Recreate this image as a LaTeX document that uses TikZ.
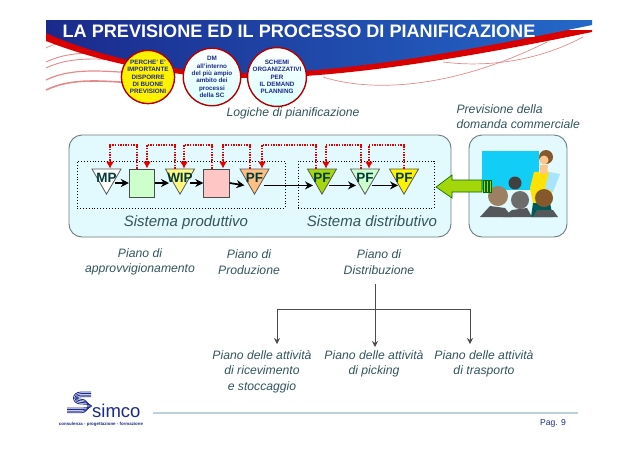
\documentclass[tikz,border=0pt]{standalone}
\usepackage{fontspec}
\setmainfont{Liberation Sans}
\usetikzlibrary{arrows.meta,shapes.geometric,positioning}
\definecolor{slatetext}{HTML}{33555C}
\definecolor{panelfill}{HTML}{E2F9FD}
\definecolor{panelline}{HTML}{6F7A7C}
\definecolor{navytext}{HTML}{1B2A8A}
\definecolor{swooshred}{HTML}{E58A8A}
\definecolor{headerleft}{HTML}{1A2A8C}
\definecolor{headerright}{HTML}{2468C8}
\definecolor{limefill}{HTML}{A4D60C}
\definecolor{screenfill}{HTML}{12CDF5}
\definecolor{crowdgray}{HTML}{55585A}
\tikzset{
    panel/.style={rectangle, rounded corners=13pt, draw=panelline, fill=panelfill, line width=0.9pt},
    zone/.style={rectangle, draw=black, line width=0.9pt, dotted},
    stock/.style={regular polygon, regular polygon sides=3, shape border rotate=180, minimum size=33.5pt, inner sep=0pt,
        draw=gray!70!black, line width=0.8pt,
        label={[text=black!55!teal, font=\fontsize{13.5}{15}\selectfont\bfseries]center:#1}},
    phase/.style={rectangle, draw=gray!60!black, line width=0.9pt, minimum width=25.5pt, minimum height=28pt},
    flow/.style={-{Stealth[length=8pt,width=8pt]}, black, line width=1.7pt},
    kanban/.style={-{Latex[length=7pt,width=8pt]}, red!90!black, line width=1.4pt, dash pattern=on 1.4pt off 1.2pt},
    plan/.style={-{Stealth[length=6pt,width=6pt]}, black!70, line width=0.9pt},
    bubble/.style={circle, draw=red!70!black, line width=1.4pt, minimum size=52pt, inner sep=0pt, align=center,
        text=navytext, font=\fontsize{6.3}{7.3}\selectfont\bfseries},
    note/.style={text=slatetext, align=center, font=\fontsize{12.2}{15.3}\selectfont\itshape},
    zonename/.style={text=slatetext, anchor=base, font=\fontsize{15}{18}\selectfont\itshape},
    swoosh/.style={draw=swooshred, line width=0.7pt}
}
\begin{document}
\begin{tikzpicture}[x=1pt,y=-1pt]
    \useasboundingbox (0,0) rectangle (638,451);
    % header
    \foreach \d/\w in {48/0.7,62/0.9,68/0.9,80/1.2,90/1.6}{
        \draw[swoosh, line width=\w pt] (46,\d) .. controls (75,\d-14) and (110,\d-8) .. (150,\d-6);
    }
    \draw[swoosh] (323,77) .. controls (370,92) and (450,90) .. (547,42);
    \draw[swoosh] (443,62) .. controls (490,68) and (540,60) .. (583,37);
    \fill[red!85!black] (46,30) -- (592,30) -- (592,32) .. controls (480,55) and (350,78) .. (250,78) .. controls (170,78) and (100,62) .. (46,41) -- cycle;
    \shade[left color=headerleft, right color=headerright] (46,20) -- (592,20) -- (592,25) .. controls (480,48) and (350,73) .. (250,73) .. controls (170,73) and (100,57) .. (46,33) -- cycle;
    \node[text=white, font=\fontsize{18.1}{20}\selectfont\bfseries] (title) at (299,31) {LA PREVISIONE ED IL PROCESSO DI PIANIFICAZIONE};

    \node[bubble, fill=yellow] (whyb) at (148,77) {PERCHE' E'\\IMPORTANTE\\DISPORRE\\DI BUONE\\PREVISIONI};
    \node[bubble, top color=white, bottom color=cyan!15] (dmb) at (212,77) {DM\\all'interno\\del più ampio\\ambito dei\\processi\\della SC};
    \node[bubble, top color=white, bottom color=cyan!15] (orgb) at (277,77) {SCHEMI\\ORGANIZZATIVI\\PER\\IL DEMAND\\PLANNING};

    \node[note] (logic) at (293,113) {Logiche di pianificazione};
    \node[note, align=left, anchor=west] (demand) at (453,116.5) {Previsione della\\domanda commerciale};

    % panels
    \node[panel, minimum width=382pt, minimum height=102pt] (sys) at (260,186) {};
    \node[panel, minimum width=98pt, minimum height=102pt] (room) at (518,186) {};
    \node[zone, minimum width=208pt, minimum height=47pt] (prod) at (181,184.5) {};
    \node[zone, minimum width=136pt, minimum height=47pt] (dist) at (366,184.5) {};
    \node[zonename] (prodname) at (186,226) {Sistema produttivo};
    \node[zonename] (distname) at (372,226) {Sistema distributivo};

    % stocks and phases
    \node[stock=MP, fill=white] (mp) at (106.5,177.4) {};
    \node[phase, fill=green!20] (fasea) at (142,183) {};
    \node[stock=WIP, fill=yellow!50] (wip) at (180,177.4) {};
    \node[phase, fill=pink!90!white] (faseb) at (216.5,183) {};
    \node[stock=PF, fill=orange!50] (pf) at (254.5,177.4) {};
    \node[stock=PF, fill=limefill] (pfa) at (322,177.4) {};
    \node[stock=PF, fill=green!20] (pfb) at (365,177.4) {};
    \node[stock=PF, fill=yellow] (pfc) at (404,177.4) {};

    % kanban loops
    \coordinate (looptop) at (0,145);
    \foreach \from/\fx/\to/\tx in {fasea/-5/mp/3.5,wip/-5/fasea/5,faseb/-4.5/wip/4,pf/-4.5/faseb/6.5,pfa/-6/pf/7.5,pfb/-4/pfa/4,pfc/0/pfb/4}{
        \coordinate (a) at ([xshift=\fx pt]\from.north);
        \coordinate (b) at ([xshift=\tx pt]\to.north);
        \draw[kanban] (a) -- (a |- looptop) -- (b |- looptop) -- (b);
    }

    % material flow
    \draw[flow] ([xshift=8pt]mp.center |- fasea.west) -- (fasea.west);
    \draw[flow] (fasea.east) -- ([xshift=-11pt]wip.center |- fasea.east);
    \draw[flow] ([xshift=10pt]wip.center |- faseb.west) -- (faseb.west);
    \draw[flow] (faseb.east) -- ([xshift=-10pt,yshift=-8pt]pf.center);
    \draw[flow] ([xshift=9pt,yshift=-8pt]pf.center) -- ([xshift=-9pt,yshift=-8pt]pfa.center);
    \draw[flow] ([xshift=7pt,yshift=-8pt]pfa.center) -- ([xshift=-9pt,yshift=-8pt]pfb.center);
    \draw[flow] ([xshift=7pt,yshift=-8pt]pfb.center) -- ([xshift=-6pt,yshift=-8pt]pfc.center);

    % presenter
    \fill[screenfill] (482,151) rectangle (539,190);
    \fill[yellow!85!orange] (534,172) -- (548,171) -- (553,180) -- (552,192) -- (549,203) -- (533,203) -- (530,188) -- cycle;
    \fill[teal!70!black] (533,203) -- (550,203) -- (553,217) -- (531,217) -- cycle;
    \fill[orange!45!white] (540,165) -- (548,165) -- (547,174) -- (540,174) -- cycle;
    \fill[blue!30!cyan!35!white] (549,172) -- (560,174) -- (553,192) -- (545,188) -- cycle;
    \fill[brown!70!black] (546,157) circle (7);
    \fill[orange!45!white] (544,160) circle (4.5);
    \fill[black!75] (515,183) circle (6.5);
    \fill[brown!45!gray] (498,196) circle (10);
    \fill[gray!85!black] (520,200) circle (9);
    \fill[brown!70!black] (544,198) circle (9);
    \fill[crowdgray] (480,217) -- (490,206) -- (505,208) -- (512,217) -- cycle;
    \fill[crowdgray] (503,217) -- (512,210) -- (527,208) -- (532,217) -- cycle;
    \fill[crowdgray] (533,217) -- (537,210) -- (553,210) -- (558,217) -- cycle;
    \draw[draw=green!40!black, fill=limefill, line width=0.6pt] (482,180) -- (452,180) -- (452,175) -- (436,187) -- (452,198) -- (452,192) -- (482,192) -- cycle;
    \foreach \sx in {483,486.5,489.5}{
        \draw[draw=green!40!black, fill=limefill, line width=0.4pt] (\sx,180) rectangle (\sx+2,192);
    }

    % plans
    \node[note] (plana) at (140,262) {Piano di\\approvvigionamento};
    \node[note] (planb) at (249,262) {Piano di\\Produzione};
    \node[note] (planc) at (379,262) {Piano di\\Distribuzione};
    \node[note, anchor=north] (acta) at (262,347) {Piano delle attività\\di ricevimento\\e stoccaggio};
    \node[note, anchor=north] (actb) at (374,347) {Piano delle attività\\di picking};
    \node[note, anchor=north] (actc) at (484,347) {Piano delle attività\\di trasporto};
    \coordinate (fork) at (375,309);
    \draw[plan, -] ([yshift=-6pt]fork |- planc.south) -- (fork);
    \draw[plan] (fork) -| ([xshift=15pt,yshift=3pt]acta.north);
    \draw[plan] (fork) -- (fork |- actb.north);
    \draw[plan] (fork) -| ([xshift=-14pt,yshift=3pt]actc.north);

    % footer
    \coordinate (rulea) at (153,413);
    \coordinate (ruleb) at (578,413);
    \draw[cyan!30!gray!45!white, line width=1.1pt] (rulea) -- (ruleb);
    \node[text=navytext, font=\fontsize{8.6}{10}\selectfont] (page) at (553,423) {Pag. 9};
    \foreach \d in {0,1.6,3.2,4.8}{
        \draw[navytext, line width=0.8pt] (91,392+\d) -- (81,392+\d) .. controls (71+\d,392+\d) and (71+\d,404-\d) .. (81,404-\d) .. controls (95-\d,404-\d) and (95-\d,408+\d) .. (81,408+\d) -- (67,408+\d);
    }
    \node[text=navytext, font=\fontsize{18.5}{20}\selectfont, anchor=west, inner sep=0pt] (logo) at (92,411) {simco};
    \node[text=navytext, font=\fontsize{4.4}{5}\selectfont\bfseries, inner sep=0pt] (tagline) at (101,424) {consulenza - progettazione - formazione};
\end{tikzpicture}
\end{document}
